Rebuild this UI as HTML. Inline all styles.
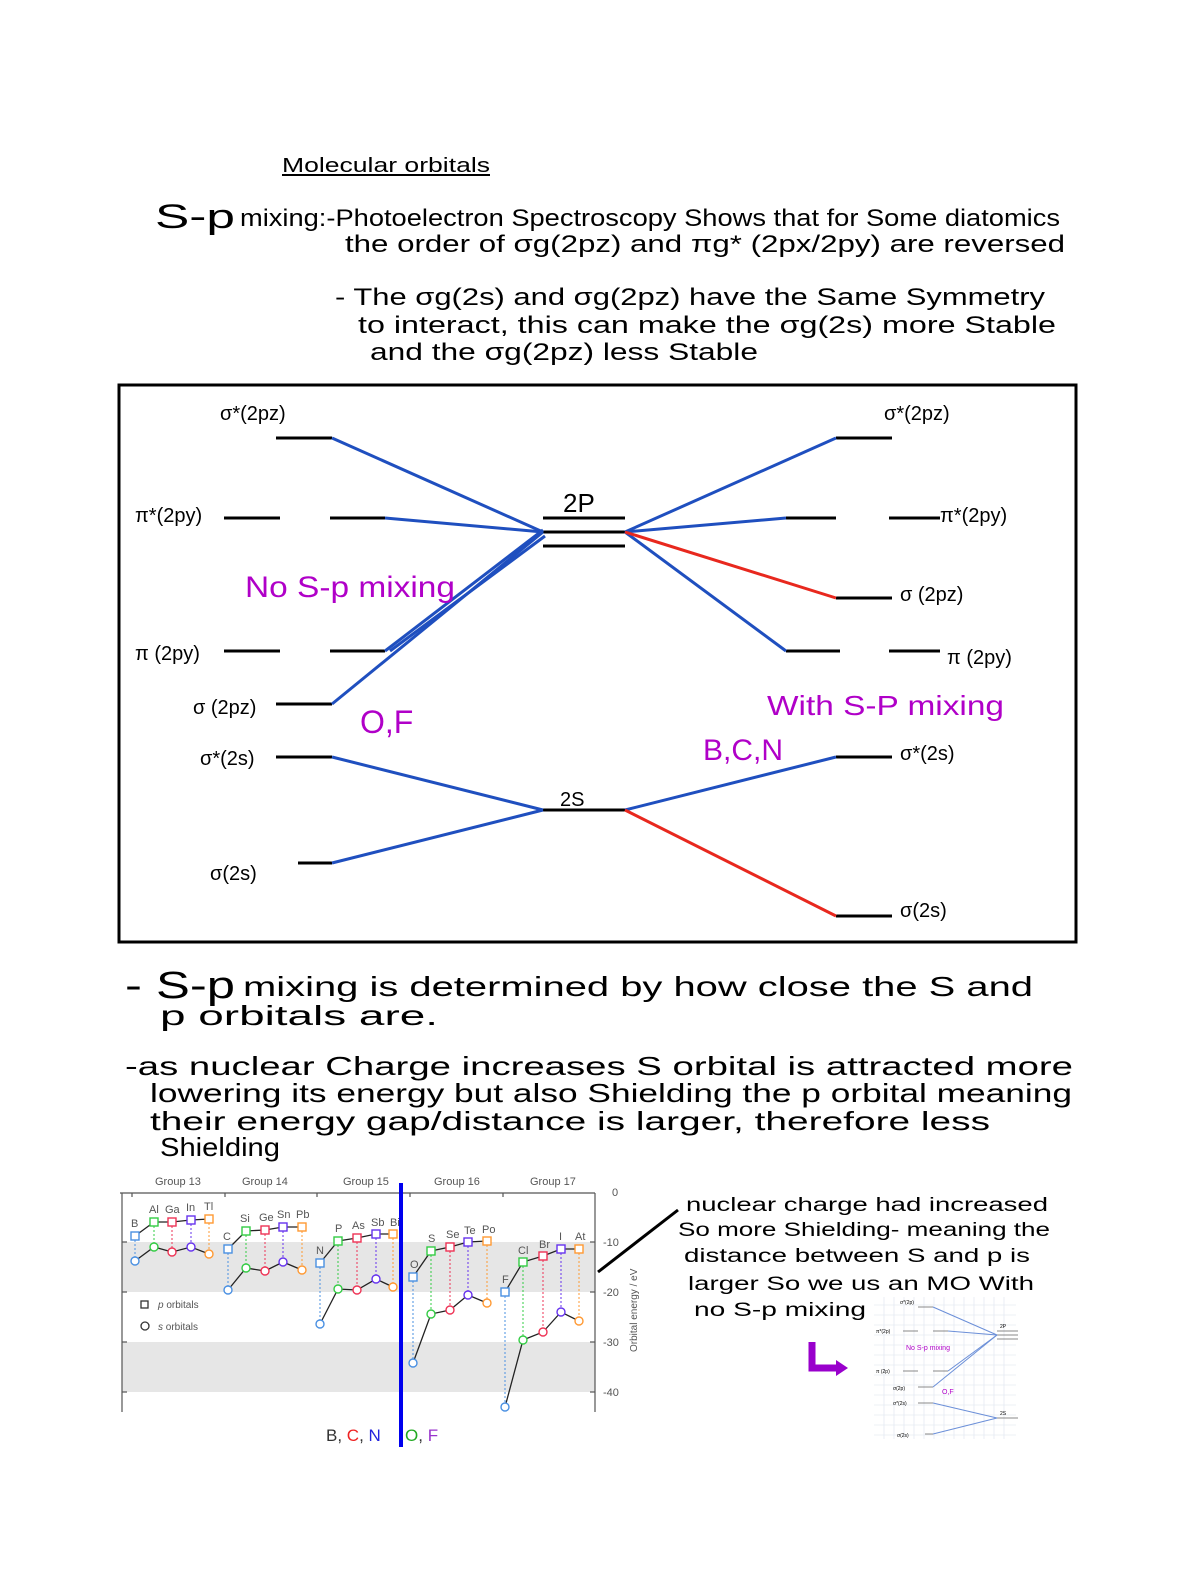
<!DOCTYPE html>
<html><head><meta charset="utf-8"><style>
html,body{margin:0;padding:0;background:#fff;}
svg{display:block}
.h{font-family:"Liberation Sans",sans-serif;fill:#000;}
.p{font-family:"Liberation Sans",sans-serif;fill:#b000c8;}
.g{font-family:"Liberation Sans",sans-serif;fill:#555;font-size:11px;}
</style></head><body>
<svg width="1200" height="1570" viewBox="0 0 1200 1570" xmlns="http://www.w3.org/2000/svg">
<!-- header text -->
<text class="h" x="282" y="172" font-size="20" textLength="208" lengthAdjust="spacingAndGlyphs">Molecular orbitals</text>
<line x1="282" y1="175" x2="490" y2="175" stroke="#000" stroke-width="2"/>
<text class="h" x="155" y="228" font-size="34" textLength="80" lengthAdjust="spacingAndGlyphs">S-p</text>
<text class="h" x="240" y="226" font-size="24" textLength="820" lengthAdjust="spacingAndGlyphs">mixing:-Photoelectron Spectroscopy Shows that for Some diatomics</text>
<text class="h" x="345" y="252" font-size="24" textLength="720" lengthAdjust="spacingAndGlyphs">the order of σg(2pz) and πg* (2px/2py) are reversed</text>
<text class="h" x="335" y="305" font-size="24" textLength="710" lengthAdjust="spacingAndGlyphs">- The σg(2s) and σg(2pz) have the Same Symmetry</text>
<text class="h" x="358" y="333" font-size="24" textLength="698" lengthAdjust="spacingAndGlyphs">to interact, this can make the σg(2s) more Stable</text>
<text class="h" x="370" y="360" font-size="24" textLength="388" lengthAdjust="spacingAndGlyphs">and the σg(2pz) less Stable</text>

<!-- MO box -->
<rect x="119" y="385" width="957" height="557" fill="none" stroke="#000" stroke-width="3"/>
<g stroke="#000" stroke-width="3">
<line x1="276" y1="438" x2="332" y2="438"/>
<line x1="224" y1="518" x2="280" y2="518"/><line x1="330" y1="518" x2="385" y2="518"/>
<line x1="224" y1="651" x2="280" y2="651"/><line x1="330" y1="651" x2="385" y2="651"/>
<line x1="276" y1="704" x2="332" y2="704"/>
<line x1="276" y1="757" x2="332" y2="757"/>
<line x1="298" y1="863" x2="332" y2="863"/>
<line x1="543" y1="518" x2="625" y2="518"/><line x1="543" y1="532" x2="625" y2="532"/><line x1="543" y1="546" x2="625" y2="546"/>
<line x1="543" y1="810" x2="625" y2="810"/>
<line x1="836" y1="438" x2="892" y2="438"/>
<line x1="786" y1="518" x2="836" y2="518"/><line x1="889" y1="518" x2="940" y2="518"/>
<line x1="836" y1="598" x2="892" y2="598"/>
<line x1="786" y1="651" x2="840" y2="651"/><line x1="889" y1="651" x2="940" y2="651"/>
<line x1="836" y1="757" x2="892" y2="757"/>
<line x1="836" y1="916" x2="892" y2="916"/>
</g>
<g stroke="#1f4fbf" stroke-width="3">
<line x1="332" y1="438" x2="543" y2="532"/>
<line x1="385" y1="518" x2="543" y2="532"/>
<line x1="385" y1="651" x2="543" y2="530"/>
<line x1="390" y1="651" x2="545" y2="536"/>
<line x1="332" y1="704" x2="543" y2="532"/>
<line x1="332" y1="757" x2="543" y2="810"/>
<line x1="332" y1="863" x2="543" y2="810"/>
<line x1="625" y1="532" x2="836" y2="438"/>
<line x1="625" y1="532" x2="786" y2="518"/>
<line x1="625" y1="532" x2="786" y2="651"/>
<line x1="625" y1="810" x2="836" y2="757"/>
</g>
<g stroke="#e8281e" stroke-width="3">
<line x1="625" y1="532" x2="836" y2="598"/>
<line x1="625" y1="810" x2="836" y2="916"/>
</g>
<g class="h" font-size="20">
<text x="220" y="420">σ*(2pz)</text>
<text x="135" y="522">π*(2py)</text>
<text x="135" y="660">π (2py)</text>
<text x="193" y="714">σ (2pz)</text>
<text x="200" y="765">σ*(2s)</text>
<text x="210" y="880">σ(2s)</text>
<text x="563" y="512" font-size="26">2P</text>
<text x="560" y="806">2S</text>
<text x="884" y="420">σ*(2pz)</text>
<text x="940" y="522">π*(2py)</text>
<text x="900" y="601">σ (2pz)</text>
<text x="947" y="664">π (2py)</text>
<text x="900" y="760">σ*(2s)</text>
<text x="900" y="917">σ(2s)</text>
</g>
<g class="p">
<text x="245" y="597" font-size="30" textLength="210" lengthAdjust="spacingAndGlyphs">No S-p mixing</text>
<text x="360" y="733" font-size="32">O,F</text>
<text x="767" y="715" font-size="28" textLength="237" lengthAdjust="spacingAndGlyphs">With S-P mixing</text>
<text x="703" y="760" font-size="30">B,C,N</text>
</g>

<!-- mid text -->
<text class="h" x="125" y="998" font-size="38" textLength="110" lengthAdjust="spacingAndGlyphs">- S-p</text>
<text class="h" x="243" y="996" font-size="28" textLength="790" lengthAdjust="spacingAndGlyphs">mixing is determined by how close the S and</text>
<text class="h" x="160" y="1025" font-size="28" textLength="278" lengthAdjust="spacingAndGlyphs">p orbitals are.</text>
<text class="h" x="125" y="1075" font-size="26" textLength="948" lengthAdjust="spacingAndGlyphs">-as nuclear Charge increases S orbital is attracted more</text>
<text class="h" x="150" y="1102" font-size="26" textLength="922" lengthAdjust="spacingAndGlyphs">lowering its energy but also Shielding the p orbital meaning</text>
<text class="h" x="150" y="1130" font-size="26" textLength="840" lengthAdjust="spacingAndGlyphs">their energy gap/distance is larger, therefore less</text>
<text class="h" x="160" y="1156" font-size="26" textLength="120" lengthAdjust="spacingAndGlyphs">Shielding</text>

<!-- bottom chart -->
<rect x="122" y="1242" width="473" height="50" fill="#e6e6e6"/>
<rect x="122" y="1342" width="473" height="50" fill="#e6e6e6"/>
<g stroke="#555" stroke-width="1.2" fill="none">
<line x1="120" y1="1193" x2="595" y2="1193"/>
<line x1="122" y1="1193" x2="122" y2="1412"/>
<line x1="595" y1="1193" x2="595" y2="1412"/>
<line x1="132" y1="1193" x2="132" y2="1197"/><line x1="225" y1="1193" x2="225" y2="1197"/><line x1="317" y1="1193" x2="317" y2="1197"/><line x1="410" y1="1193" x2="410" y2="1197"/><line x1="503" y1="1193" x2="503" y2="1197"/>
<line x1="595" y1="1242" x2="590" y2="1242"/><line x1="595" y1="1292" x2="590" y2="1292"/><line x1="595" y1="1342" x2="590" y2="1342"/><line x1="595" y1="1392" x2="590" y2="1392"/>
<line x1="122" y1="1242" x2="127" y2="1242"/><line x1="122" y1="1292" x2="127" y2="1292"/><line x1="122" y1="1342" x2="127" y2="1342"/><line x1="122" y1="1392" x2="127" y2="1392"/>
</g>
<g class="g">
<text x="155" y="1185">Group 13</text><text x="242" y="1185">Group 14</text><text x="343" y="1185">Group 15</text><text x="434" y="1185">Group 16</text><text x="530" y="1185">Group 17</text>
<text x="612" y="1196">0</text><text x="603" y="1246">-10</text><text x="603" y="1296">-20</text><text x="603" y="1346">-30</text><text x="603" y="1396">-40</text>
<text transform="translate(637,1352) rotate(-90)" font-size="10">Orbital energy / eV</text>
<text x="158" y="1308" font-size="10"><tspan font-style="italic">p</tspan> orbitals</text>
<text x="158" y="1330" font-size="10"><tspan font-style="italic">s</tspan> orbitals</text>
</g>
<rect x="141" y="1301" width="7" height="7" fill="none" stroke="#333" stroke-width="1.3"/>
<circle cx="145" cy="1326" r="4" fill="none" stroke="#333" stroke-width="1.3"/>
<!-- dotted verticals -->
<g stroke-width="1" stroke-dasharray="2,2">
<g stroke="#4a90e2"><line x1="135" y1="1236" x2="135" y2="1261"/><line x1="228" y1="1249" x2="228" y2="1290"/><line x1="320" y1="1263" x2="320" y2="1324"/><line x1="413" y1="1277" x2="413" y2="1363"/><line x1="505" y1="1292" x2="505" y2="1407"/></g>
<g stroke="#33cc44"><line x1="154" y1="1222" x2="154" y2="1247"/><line x1="246" y1="1231" x2="246" y2="1268"/><line x1="338" y1="1241" x2="338" y2="1289"/><line x1="431" y1="1251" x2="431" y2="1314"/><line x1="523" y1="1262" x2="523" y2="1340"/></g>
<g stroke="#ee3355"><line x1="172" y1="1222" x2="172" y2="1252"/><line x1="265" y1="1230" x2="265" y2="1271"/><line x1="357" y1="1238" x2="357" y2="1290"/><line x1="450" y1="1247" x2="450" y2="1310"/><line x1="543" y1="1256" x2="543" y2="1332"/></g>
<g stroke="#6633ee"><line x1="191" y1="1220" x2="191" y2="1247"/><line x1="283" y1="1227" x2="283" y2="1262"/><line x1="376" y1="1234" x2="376" y2="1279"/><line x1="468" y1="1242" x2="468" y2="1295"/><line x1="561" y1="1249" x2="561" y2="1312"/></g>
<g stroke="#ff9933"><line x1="209" y1="1219" x2="209" y2="1254"/><line x1="302" y1="1227" x2="302" y2="1270"/><line x1="393" y1="1234" x2="393" y2="1287"/><line x1="487" y1="1241" x2="487" y2="1303"/><line x1="579" y1="1249" x2="579" y2="1321"/></g>
</g>
<g stroke="#222" stroke-width="1.3" fill="none">
<polyline points="135,1236 154,1222 172,1222 191,1220 209,1219"/><polyline points="135,1261 154,1247 172,1252 191,1247 209,1254"/>
<polyline points="228,1249 246,1231 265,1230 283,1227 302,1227"/><polyline points="228,1290 246,1268 265,1271 283,1262 302,1270"/>
<polyline points="320,1263 338,1241 357,1238 376,1234 393,1234"/><polyline points="320,1324 338,1289 357,1290 376,1279 393,1287"/>
<polyline points="413,1277 431,1251 450,1247 468,1242 487,1241"/><polyline points="413,1363 431,1314 450,1310 468,1295 487,1303"/>
<polyline points="505,1292 523,1262 543,1256 561,1249 579,1249"/><polyline points="505,1407 523,1340 543,1332 561,1312 579,1321"/>
</g>
<g fill="#fff" stroke-width="1.4">
<g stroke="#4a90e2"><rect x="131" y="1232" width="8" height="8"/><rect x="224" y="1245" width="8" height="8"/><rect x="316" y="1259" width="8" height="8"/><rect x="409" y="1273" width="8" height="8"/><rect x="501" y="1288" width="8" height="8"/>
<circle cx="135" cy="1261" r="4"/><circle cx="228" cy="1290" r="4"/><circle cx="320" cy="1324" r="4"/><circle cx="413" cy="1363" r="4"/><circle cx="505" cy="1407" r="4"/></g>
<g stroke="#33cc44"><rect x="150" y="1218" width="8" height="8"/><rect x="242" y="1227" width="8" height="8"/><rect x="334" y="1237" width="8" height="8"/><rect x="427" y="1247" width="8" height="8"/><rect x="519" y="1258" width="8" height="8"/>
<circle cx="154" cy="1247" r="4"/><circle cx="246" cy="1268" r="4"/><circle cx="338" cy="1289" r="4"/><circle cx="431" cy="1314" r="4"/><circle cx="523" cy="1340" r="4"/></g>
<g stroke="#ee3355"><rect x="168" y="1218" width="8" height="8"/><rect x="261" y="1226" width="8" height="8"/><rect x="353" y="1234" width="8" height="8"/><rect x="446" y="1243" width="8" height="8"/><rect x="539" y="1252" width="8" height="8"/>
<circle cx="172" cy="1252" r="4"/><circle cx="265" cy="1271" r="4"/><circle cx="357" cy="1290" r="4"/><circle cx="450" cy="1310" r="4"/><circle cx="543" cy="1332" r="4"/></g>
<g stroke="#6633ee"><rect x="187" y="1216" width="8" height="8"/><rect x="279" y="1223" width="8" height="8"/><rect x="372" y="1230" width="8" height="8"/><rect x="464" y="1238" width="8" height="8"/><rect x="557" y="1245" width="8" height="8"/>
<circle cx="191" cy="1247" r="4"/><circle cx="283" cy="1262" r="4"/><circle cx="376" cy="1279" r="4"/><circle cx="468" cy="1295" r="4"/><circle cx="561" cy="1312" r="4"/></g>
<g stroke="#ff9933"><rect x="205" y="1215" width="8" height="8"/><rect x="298" y="1223" width="8" height="8"/><rect x="389" y="1230" width="8" height="8"/><rect x="483" y="1237" width="8" height="8"/><rect x="575" y="1245" width="8" height="8"/>
<circle cx="209" cy="1254" r="4"/><circle cx="302" cy="1270" r="4"/><circle cx="393" cy="1287" r="4"/><circle cx="487" cy="1303" r="4"/><circle cx="579" cy="1321" r="4"/></g>
</g>
<g class="g" fill="#333" font-size="10">
<text x="131" y="1227">B</text><text x="149" y="1213">Al</text><text x="165" y="1213">Ga</text><text x="186" y="1211">In</text><text x="204" y="1210">Tl</text>
<text x="223" y="1240">C</text><text x="240" y="1222">Si</text><text x="259" y="1221">Ge</text><text x="277" y="1218">Sn</text><text x="296" y="1218">Pb</text>
<text x="316" y="1254">N</text><text x="335" y="1232">P</text><text x="352" y="1229">As</text><text x="371" y="1226">Sb</text><text x="390" y="1226">Bi</text>
<text x="410" y="1268">O</text><text x="428" y="1242">S</text><text x="446" y="1238">Se</text><text x="464" y="1234">Te</text><text x="482" y="1233">Po</text>
<text x="502" y="1283">F</text><text x="518" y="1254">Cl</text><text x="539" y="1248">Br</text><text x="559" y="1240">I</text><text x="575" y="1240">At</text>
</g>
<line x1="401" y1="1183" x2="401" y2="1447" stroke="#0000ee" stroke-width="4"/>
<text x="326" y="1441" font-family="Liberation Sans,sans-serif" font-size="17"><tspan fill="#333">B, </tspan><tspan fill="#ee2222">C</tspan><tspan fill="#333">, </tspan><tspan fill="#2222dd">N</tspan></text>
<text x="405" y="1441" font-family="Liberation Sans,sans-serif" font-size="17"><tspan fill="#22aa22">O</tspan><tspan fill="#333">, </tspan><tspan fill="#9933cc">F</tspan></text>

<!-- right note -->
<line x1="598" y1="1272" x2="678" y2="1210" stroke="#000" stroke-width="3"/>
<g class="h" font-size="19">
<text x="686" y="1211" textLength="362" lengthAdjust="spacingAndGlyphs">nuclear charge had increased</text>
<text x="678" y="1236" textLength="372" lengthAdjust="spacingAndGlyphs">So more Shielding- meaning the</text>
<text x="684" y="1262" textLength="346" lengthAdjust="spacingAndGlyphs">distance between S and p is</text>
<text x="688" y="1290" textLength="346" lengthAdjust="spacingAndGlyphs">larger So we us an MO With</text>
<text x="694" y="1316" textLength="172" lengthAdjust="spacingAndGlyphs">no S-p mixing</text>
</g>
<path d="M812,1342 L812,1368 L838,1368" fill="none" stroke="#9900cc" stroke-width="7"/>
<polygon points="836,1360 848,1368 836,1376" fill="#9900cc"/>
<!-- mini diagram -->
<g>
<rect x="874" y="1297" width="142" height="142" fill="#fff"/>
<g stroke="#dde3ee" stroke-width="0.6">
<line x1="874" y1="1305" x2="1016" y2="1305"/><line x1="874" y1="1315" x2="1016" y2="1315"/><line x1="874" y1="1325" x2="1016" y2="1325"/><line x1="874" y1="1335" x2="1016" y2="1335"/><line x1="874" y1="1345" x2="1016" y2="1345"/><line x1="874" y1="1355" x2="1016" y2="1355"/><line x1="874" y1="1365" x2="1016" y2="1365"/><line x1="874" y1="1375" x2="1016" y2="1375"/><line x1="874" y1="1385" x2="1016" y2="1385"/><line x1="874" y1="1395" x2="1016" y2="1395"/><line x1="874" y1="1405" x2="1016" y2="1405"/><line x1="874" y1="1415" x2="1016" y2="1415"/><line x1="874" y1="1425" x2="1016" y2="1425"/><line x1="874" y1="1435" x2="1016" y2="1435"/>
<line x1="884" y1="1297" x2="884" y2="1439"/><line x1="894" y1="1297" x2="894" y2="1439"/><line x1="904" y1="1297" x2="904" y2="1439"/><line x1="914" y1="1297" x2="914" y2="1439"/><line x1="924" y1="1297" x2="924" y2="1439"/><line x1="934" y1="1297" x2="934" y2="1439"/><line x1="944" y1="1297" x2="944" y2="1439"/><line x1="954" y1="1297" x2="954" y2="1439"/><line x1="964" y1="1297" x2="964" y2="1439"/><line x1="974" y1="1297" x2="974" y2="1439"/><line x1="984" y1="1297" x2="984" y2="1439"/><line x1="994" y1="1297" x2="994" y2="1439"/><line x1="1004" y1="1297" x2="1004" y2="1439"/>
</g>
<g stroke="#888" stroke-width="1">
<line x1="918" y1="1307" x2="933" y2="1307"/><line x1="903" y1="1331" x2="918" y2="1331"/><line x1="933" y1="1331" x2="948" y2="1331"/>
<line x1="903" y1="1371" x2="918" y2="1371"/><line x1="933" y1="1371" x2="948" y2="1371"/><line x1="918" y1="1387" x2="933" y2="1387"/>
<line x1="918" y1="1403" x2="933" y2="1403"/><line x1="925" y1="1434" x2="933" y2="1434"/>
<line x1="997" y1="1331" x2="1018" y2="1331"/><line x1="997" y1="1335" x2="1018" y2="1335"/><line x1="997" y1="1339" x2="1018" y2="1339"/><line x1="997" y1="1418" x2="1018" y2="1418"/>
</g>
<g stroke="#6b8fd8" stroke-width="1">
<line x1="933" y1="1307" x2="997" y2="1335"/><line x1="948" y1="1331" x2="997" y2="1335"/><line x1="948" y1="1371" x2="997" y2="1335"/><line x1="933" y1="1387" x2="997" y2="1335"/>
<line x1="933" y1="1403" x2="997" y2="1418"/><line x1="933" y1="1434" x2="997" y2="1418"/>
</g>
<g class="h" font-size="5" fill="#444"><text x="900" y="1304">σ*(2p)</text><text x="876" y="1333">π*(2p)</text><text x="876" y="1373">π (2p)</text><text x="893" y="1390">σ(2p)</text><text x="893" y="1405">σ*(2s)</text><text x="897" y="1437">σ(2s)</text><text x="1000" y="1328">2P</text><text x="1000" y="1415">2S</text></g>
<g class="p" font-size="7" fill="#d070e0"><text x="906" y="1350">No S-p mixing</text><text x="942" y="1394">O,F</text></g>
</g>
</svg>
</body></html>
